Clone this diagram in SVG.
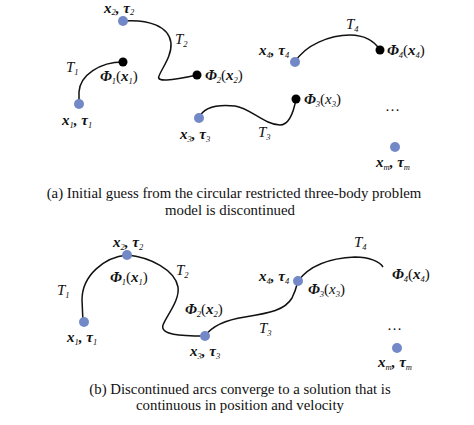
<svg xmlns="http://www.w3.org/2000/svg" width="474" height="425" viewBox="0 0 474 425">
<style>
.arc{fill:none;stroke:#111;stroke-width:1.5}
.st{fill:#7389c7}
.end{fill:#000}
.lb{font-family:"Liberation Serif",serif;font-size:15px;font-weight:bold;font-style:italic;fill:#111}
.t{font-family:"Liberation Serif",serif;font-size:15px;font-style:italic;fill:#111}
.sub{font-size:8.5px;font-weight:normal}
.cap{font-family:"Liberation Serif",serif;font-size:14.8px;fill:#111;text-anchor:middle}
.dots{font-family:"Liberation Serif",serif;font-size:15px;fill:#111}
</style>
<rect width="474" height="425" fill="#fff"/>
<g id="connectors">
<path class="arc" d="M79,104 L79,92 C80,75 100,62 123,62"/>
<path class="arc" d="M123,21 C148,19 169,26 171,43 C172,56 162,68 159,76 C156,82 170,81 197,75"/>
<path class="arc" d="M199,118 C203,108 215,104 235,106 C250,108 265,125 280,125 C290,125 294,110 296,99"/>
<path class="arc" d="M295,62 C305,45 330,35 350,35 C365,35 375,42 380,50"/>
<path class="arc" d="M83,322 L82,300 C82,275 105,257 127,255"/>
<path class="arc" d="M127,255 C150,257 175,270 178,287 C180,300 167,315 163,325 C160,335 180,336 205,336"/>
<path class="arc" d="M205,336 C212,326 225,320 245,317 C270,313 285,310 292,298 C295,292 297,285 298,281"/>
<path class="arc" d="M298,281 C310,265 330,258 355,257 C370,257 380,262 383,267"/>
</g>
<g id="top-x1"><circle class="st" cx="79" cy="104" r="5"/><text class="lb" x="62" y="125">x<tspan class="sub" dy="3">1</tspan><tspan dy="-3">, τ</tspan><tspan class="sub" dy="3">1</tspan></text></g>
<g id="top-x2"><circle class="st" cx="123" cy="21" r="5"/><text class="lb" x="104" y="13">x<tspan class="sub" dy="2">2</tspan><tspan dy="-2">, τ</tspan><tspan class="sub" dy="2">2</tspan></text></g>
<g id="top-x3"><circle class="st" cx="199" cy="118" r="5"/><text class="lb" x="180" y="139">x<tspan class="sub" dy="3">3</tspan><tspan dy="-3">, τ</tspan><tspan class="sub" dy="3">3</tspan></text></g>
<g id="top-x4"><circle class="st" cx="295" cy="62" r="5"/><text class="lb" x="259" y="55">x<tspan class="sub" dy="3">4</tspan><tspan dy="-3">, τ</tspan><tspan class="sub" dy="3">4</tspan></text></g>
<g id="top-xm"><circle class="st" cx="395" cy="147" r="5"/><text class="lb" x="376" y="167">x<tspan class="sub" dy="3">m</tspan><tspan dy="-3">, τ</tspan><tspan class="sub" dy="3">m</tspan></text><text class="dots" x="385" y="111">…</text></g>
<g id="top-phi1"><circle class="end" cx="123" cy="62" r="4.5"/><text class="lb" x="100" y="81">Φ<tspan class="sub" dy="3">1</tspan><tspan dy="-3" font-weight="normal" font-style="normal">(</tspan>x<tspan class="sub" dy="3">1</tspan><tspan dy="-3" font-weight="normal" font-style="normal">)</tspan></text></g>
<g id="top-phi2"><circle class="end" cx="197" cy="75" r="4.5"/><text class="lb" x="205" y="80">Φ<tspan class="sub" dy="3">2</tspan><tspan dy="-3" font-weight="normal" font-style="normal">(</tspan>x<tspan class="sub" dy="3">2</tspan><tspan dy="-3" font-weight="normal" font-style="normal">)</tspan></text></g>
<g id="top-phi3"><circle class="end" cx="296" cy="99" r="4.5"/><text class="lb" x="304" y="104">Φ<tspan class="sub" dy="3">3</tspan><tspan dy="-3" font-weight="normal" font-style="normal">(</tspan><tspan font-weight="normal">x</tspan><tspan class="sub" dy="3">3</tspan><tspan dy="-3" font-weight="normal" font-style="normal">)</tspan></text></g>
<g id="top-phi4"><circle class="end" cx="380" cy="50" r="4.5"/><text class="lb" x="387" y="55">Φ<tspan class="sub" dy="3">4</tspan><tspan dy="-3" font-weight="normal" font-style="normal">(</tspan>x<tspan class="sub" dy="3">4</tspan><tspan dy="-3" font-weight="normal" font-style="normal">)</tspan></text></g>
<g id="top-T"><text class="t" x="66" y="72">T<tspan class="sub" dy="3">1</tspan></text><text class="t" x="175" y="44">T<tspan class="sub" dy="3">2</tspan></text><text class="t" x="258" y="137">T<tspan class="sub" dy="3">3</tspan></text><text class="t" x="346" y="29">T<tspan class="sub" dy="3">4</tspan></text></g>
<g id="caption-a"><text class="cap" x="234" y="198">(a) Initial guess from the circular restricted three-body problem</text><text class="cap" x="230" y="215">model is discontinued</text></g>
<g id="bot-x1"><circle class="st" cx="84" cy="322" r="5"/><text class="lb" x="67" y="342">x<tspan class="sub" dy="3">1</tspan><tspan dy="-3">, τ</tspan><tspan class="sub" dy="3">1</tspan></text></g>
<g id="bot-x2"><circle class="st" cx="127" cy="255" r="5"/><text class="lb" x="113" y="247">x<tspan class="sub" dy="3">2</tspan><tspan dy="-3">, τ</tspan><tspan class="sub" dy="3">2</tspan></text></g>
<g id="bot-x3"><circle class="st" cx="205" cy="336" r="5"/><text class="lb" x="190" y="356">x<tspan class="sub" dy="3">3</tspan><tspan dy="-3">, τ</tspan><tspan class="sub" dy="3">3</tspan></text></g>
<g id="bot-x4"><circle class="st" cx="298" cy="281" r="5"/><text class="lb" x="259" y="281">x<tspan class="sub" dy="3">4</tspan><tspan dy="-3">, τ</tspan><tspan class="sub" dy="3">4</tspan></text></g>
<g id="bot-xm"><circle class="st" cx="397" cy="348" r="5"/><text class="lb" x="378" y="367">x<tspan class="sub" dy="3">m</tspan><tspan dy="-3">, τ</tspan><tspan class="sub" dy="3">m</tspan></text><text class="dots" x="387" y="330">…</text></g>
<g id="bot-phi"><text class="lb" x="110" y="282">Φ<tspan class="sub" dy="3">1</tspan><tspan dy="-3" font-weight="normal" font-style="normal">(</tspan>x<tspan class="sub" dy="3">1</tspan><tspan dy="-3" font-weight="normal" font-style="normal">)</tspan></text><text class="lb" x="185" y="314">Φ<tspan class="sub" dy="3">2</tspan><tspan dy="-3" font-weight="normal" font-style="normal">(</tspan>x<tspan class="sub" dy="3">2</tspan><tspan dy="-3" font-weight="normal" font-style="normal">)</tspan></text><text class="lb" x="308" y="294">Φ<tspan class="sub" dy="3">3</tspan><tspan dy="-3" font-weight="normal" font-style="normal">(</tspan><tspan font-weight="normal">x</tspan><tspan class="sub" dy="3">3</tspan><tspan dy="-3" font-weight="normal" font-style="normal">)</tspan></text><text class="lb" x="392" y="279">Φ<tspan class="sub" dy="3">4</tspan><tspan dy="-3" font-weight="normal" font-style="normal">(</tspan>x<tspan class="sub" dy="3">4</tspan><tspan dy="-3" font-weight="normal" font-style="normal">)</tspan></text></g>
<g id="bot-T"><text class="t" x="57" y="295">T<tspan class="sub" dy="3">1</tspan></text><text class="t" x="176" y="275">T<tspan class="sub" dy="3">2</tspan></text><text class="t" x="259" y="333">T<tspan class="sub" dy="3">3</tspan></text><text class="t" x="354" y="247">T<tspan class="sub" dy="3">4</tspan></text></g>
<g id="caption-b"><text class="cap" x="240" y="394">(b) Discontinued arcs converge to a solution that is</text><text class="cap" x="240" y="410">continuous in position and velocity</text></g>
</svg>
